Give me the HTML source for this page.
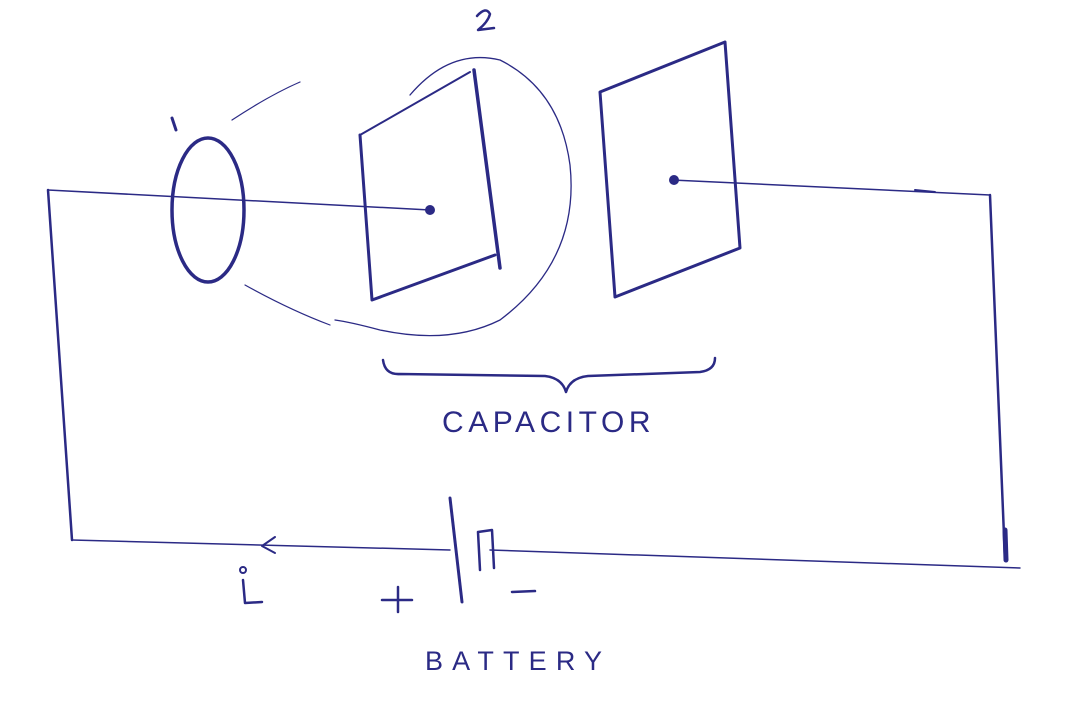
<!DOCTYPE html>
<html><head><meta charset="utf-8"><style>
html,body{margin:0;padding:0;background:#fff;}
svg{display:block;}
text{font-family:"Liberation Sans",sans-serif;fill:#2b2a85;}
</style></head><body>
<svg width="1071" height="711" viewBox="0 0 1071 711" xmlns="http://www.w3.org/2000/svg">
<rect width="1071" height="711" fill="#fff"/>
<g fill="none" stroke="#2b2a85" stroke-linecap="round" stroke-linejoin="round">
<path d="M48 190 L72 540" stroke-width="2.5"/>
<path d="M48 190 L430 210" stroke-width="1.5"/>
<ellipse cx="208" cy="210" rx="36" ry="72" stroke-width="3.5"/>
<path d="M232 120 Q270 95 300 82" stroke-width="1.2"/>
<path d="M245 285 Q290 310 330 325" stroke-width="1.2"/>
<path d="M410 95 Q450 48 500 60 Q560 90 570 165 Q580 260 500 320 Q450 345 380 330 Q350 322 335 320" stroke-width="1.3"/>
<path d="M360 135 L372 300 L495 255" stroke-width="3"/>
<path d="M360 135 L470 72" stroke-width="2"/>
<path d="M474 70 L500 268" stroke-width="3.5"/>
<path d="M600 92 L615 297 L740 248 L725 42 Z" stroke-width="3"/>
<path d="M672 180 L990 195" stroke-width="1.5"/>
<path d="M915 190 L935 192" stroke-width="2"/>
<path d="M990 195 L1005 560" stroke-width="2.5"/>
<path d="M1005 530 L1006 560" stroke-width="5"/>
<path d="M72 540 L450 550" stroke-width="1.5"/>
<path d="M490 550 L1020 568" stroke-width="1.5"/>
<path d="M275 537 L262 546 L275 553" stroke-width="2"/>
<path d="M450 498 L462 602" stroke-width="3"/>
<path d="M478 532 L480 570 M478 532 L492 530 L494 568" stroke-width="2.5"/>
<path d="M383 360 Q385 375 400 374 L545 376 Q562 378 566 392 Q570 378 588 376 L700 372 Q715 370 715 358" stroke-width="2.5"/>
<path d="M382 600 L412 600 M398 587 L398 612" stroke-width="2.5"/>
<path d="M512 592 L535 591" stroke-width="2.5"/>
<path d="M243 580 L245 603 L262 602" stroke-width="2.5"/>
<circle cx="243" cy="570" r="3" stroke-width="2"/>
<path d="M172 118 L176 130" stroke-width="3"/>
<path d="M477 16 Q486 6 490 14 Q488 22 478 30 L494 28" stroke-width="2.5"/>
</g>
<circle cx="430" cy="210" r="5" fill="#2b2a85"/>
<circle cx="674" cy="180" r="5" fill="#2b2a85"/>
<text x="442" y="432" font-size="30" letter-spacing="4.5" textLength="213" lengthAdjust="spacing">CAPACITOR</text>
<text x="425" y="670" font-size="27" letter-spacing="8" textLength="185" lengthAdjust="spacing">BATTERY</text>
</svg>
</body></html>
